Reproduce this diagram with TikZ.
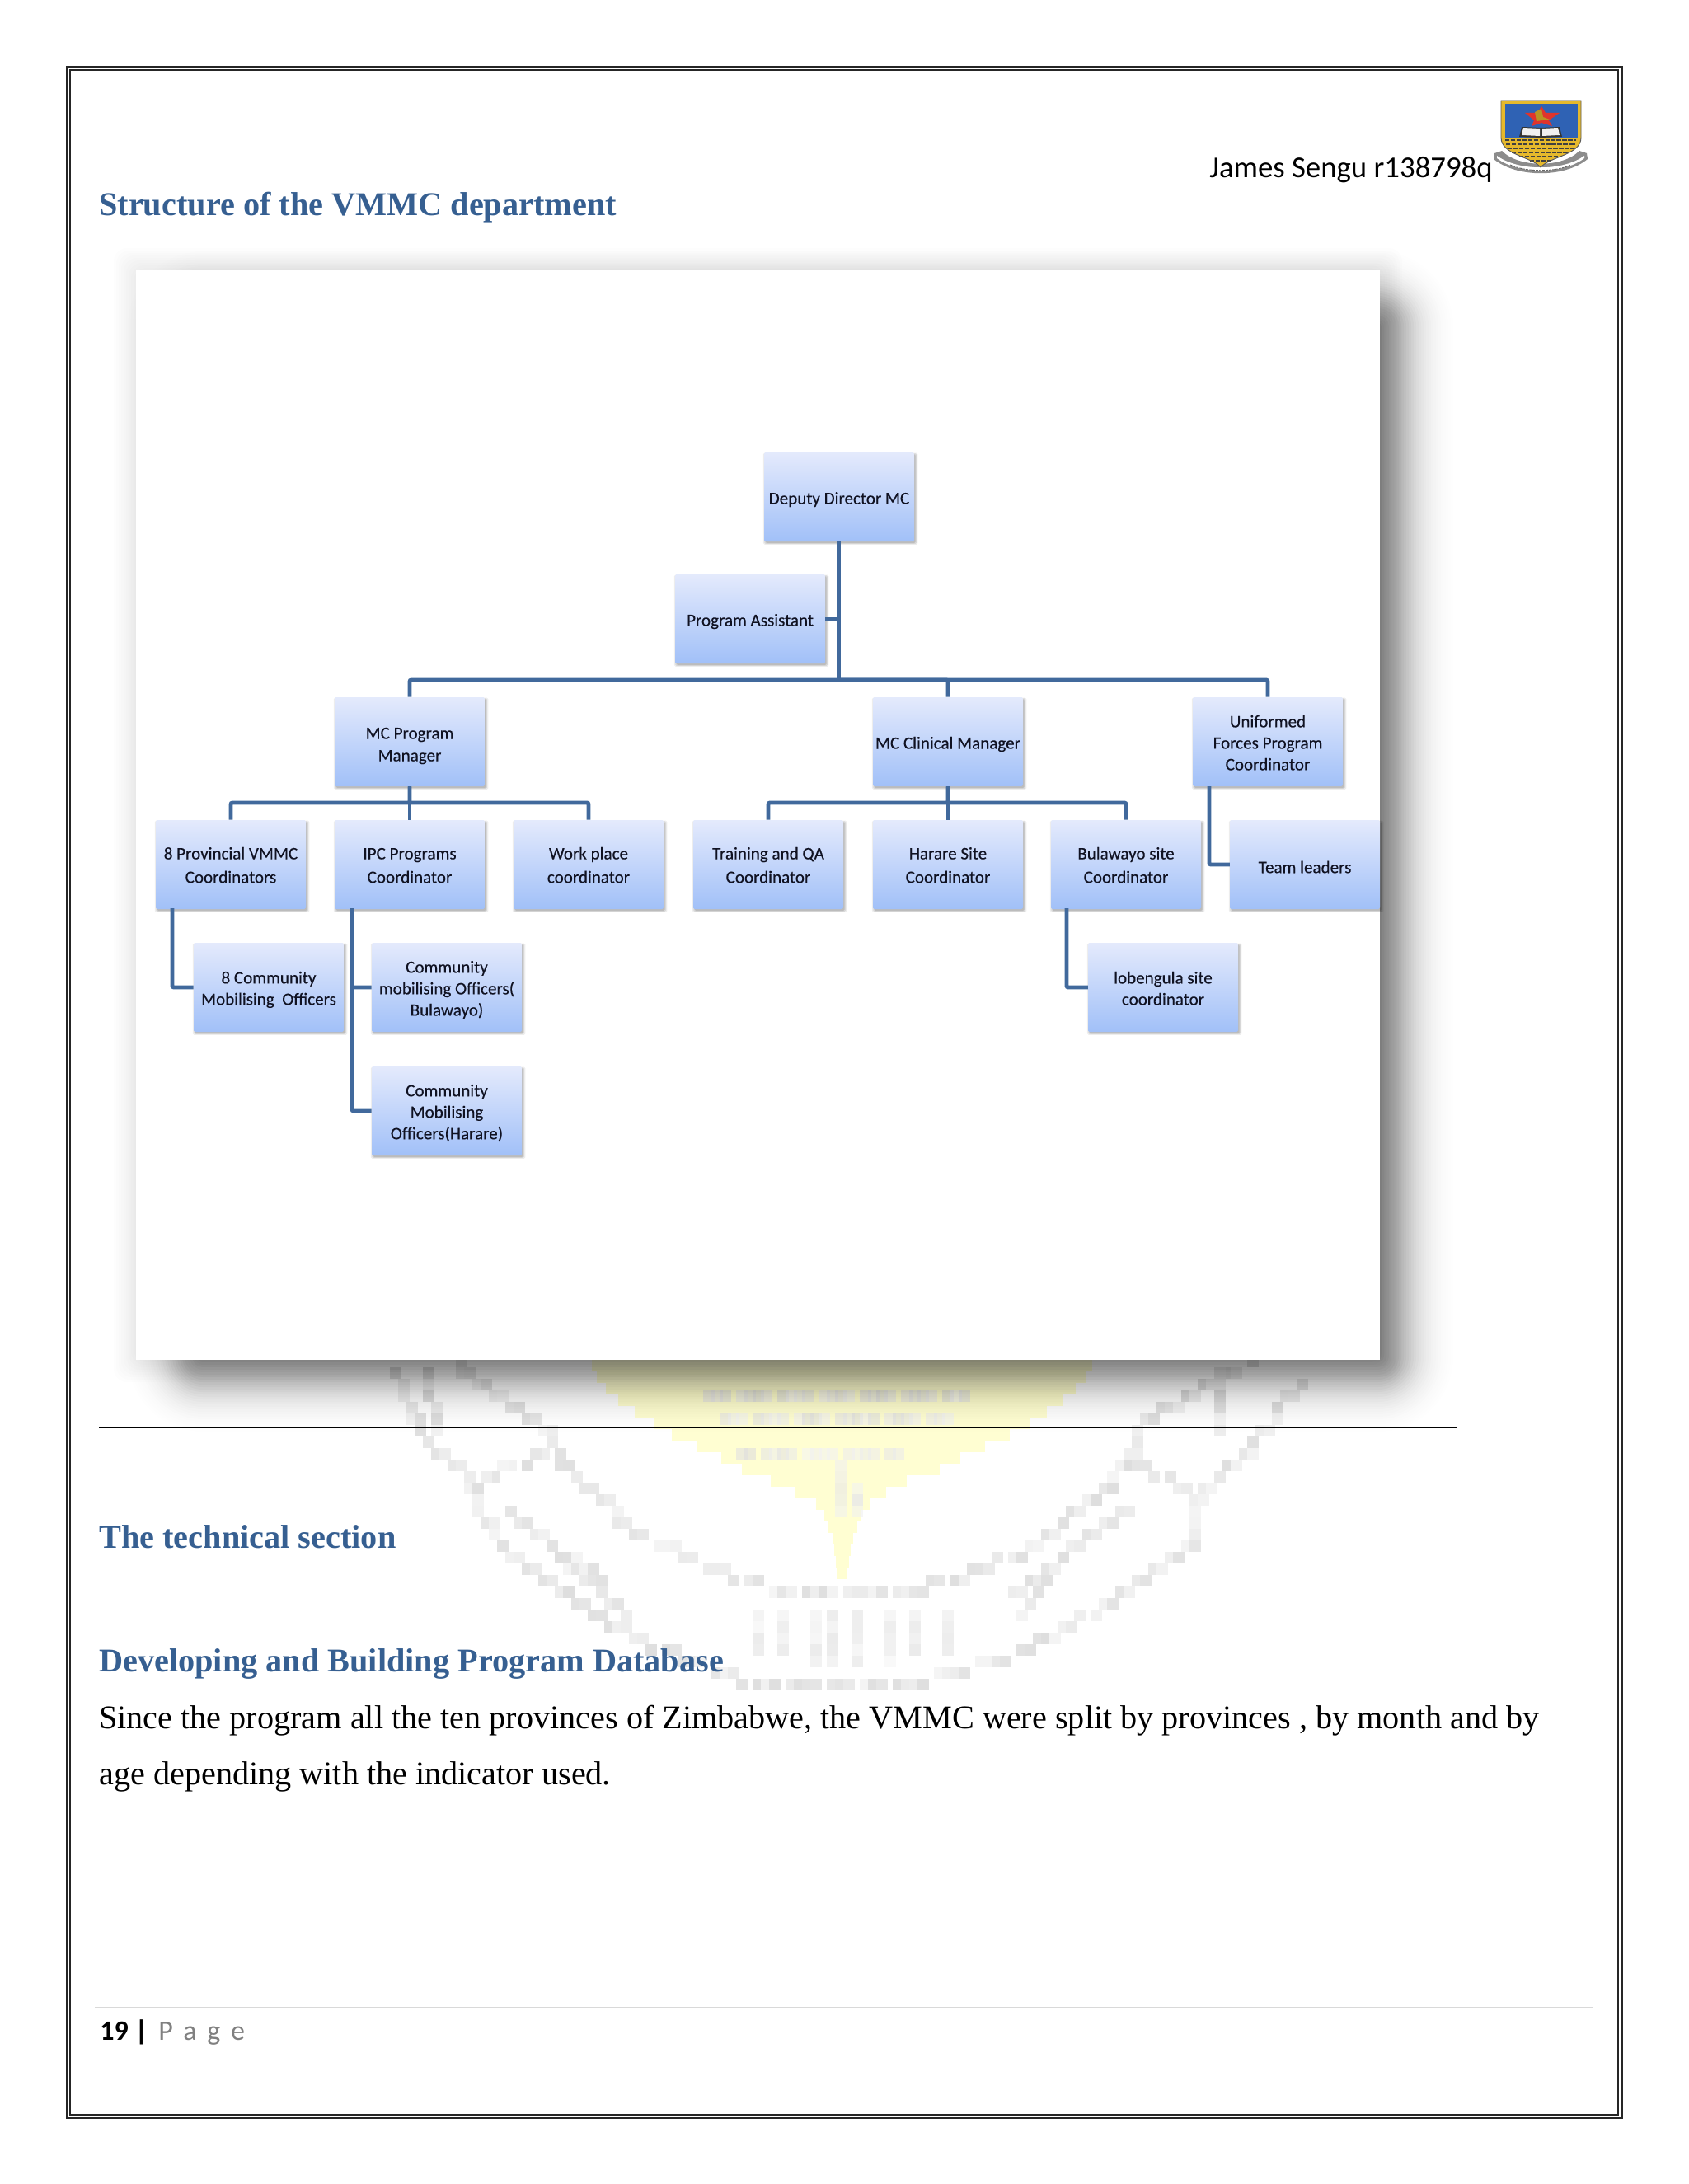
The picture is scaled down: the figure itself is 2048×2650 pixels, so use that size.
\documentclass[tikz,border=0pt]{standalone}
\usepackage{fontspec}
\setmainfont{Liberation Serif}
\newfontfamily\carlito{Carlito}
\newfontfamily\carlitob[FakeBold=0.3]{Carlito}
\usetikzlibrary{shadows,calc}
\definecolor{heading}{HTML}{365F91}
\definecolor{conn}{HTML}{41699C}
\definecolor{boxtop}{HTML}{E4EAFC}
\definecolor{boxbot}{HTML}{A1C0F8}
\definecolor{boxtext}{HTML}{101222}
\definecolor{wmyellow}{HTML}{FFFED2}
\definecolor{crestblue}{HTML}{2F62B4}
\definecolor{crestgold}{HTML}{E6B92C}
\definecolor{crestred}{HTML}{E0342C}
\tikzset{
  softshadow/.style={
    general shadow={fill=black,opacity=.07,shadow xshift=1.2pt,shadow yshift=-1.6pt,shadow scale=1.03},
    general shadow={fill=black,opacity=.09,shadow xshift=1.2pt,shadow yshift=-1.6pt,shadow scale=1.015},
    general shadow={fill=black,opacity=.12,shadow xshift=1.2pt,shadow yshift=-1.6pt}},
  orgbox/.style={rectangle,rounded corners=1.2pt,minimum width=136.5pt,minimum height=81pt,inner sep=0pt,
    top color=boxtop,bottom color=boxbot,text=boxtext,align=center,softshadow,
    font=\carlitob\fontsize{15.8}{19.5}\selectfont,
    execute at begin node={\rule{0pt}{15.5pt}}},
  midbox/.style={orgbox,font=\carlitob\fontsize{15.8}{20.3}\selectfont},
  widebox/.style={orgbox,font=\carlitob\fontsize{15.8}{21.5}\selectfont},
  link/.style={draw=conn,line width=3.7pt,rounded corners=1.5pt},
  headtext/.style={anchor=base west,inner sep=0pt,text=heading,font=\bfseries\fontsize{30.2}{34}\selectfont},
  bodytext/.style={anchor=base west,inner sep=0pt,font=\fontsize{30.15}{36}\selectfont},
  foot/.style={anchor=base west,inner sep=0pt,font=\carlito\fontsize{25.5}{30}\selectfont}
}
\newcommand{\wmband}[1]{%
  \foreach \a/\b/\c/\d in {#1}{%
    \pgfmathtruncatemacro\nn{max(1,veclen(\c-\a,\d-\b)/12)}%
    \foreach \i in {0,...,\nn}{%
      \pgfmathsetmacro\px{round((\a+(\c-\a)*\i/\nn)/10)*10}%
      \pgfmathsetmacro\py{round((\b+(\d-\b)*\i/\nn)/14)*14}%
      \pgfmathsetmacro\sh{4+rnd*9}%
      \fill[black!\sh] (\px-7,\py-7) rectangle ++(14,14);
    }%
  }%
}
\begin{document}
\begin{tikzpicture}[x=0.75pt,y=-0.75pt]
\useasboundingbox (0,0) rectangle (2048,2650);
\fill[white] (0,0) rectangle (2048,2650);
\pgfmathsetseed{7}
% watermark: yellow point of the shield
\foreach \yy/\xa/\xb in {1650/718/1325,1664/724/1318,1678/735/1305,1692/750/1290,1706/770/1270,1720/794/1250,1734/815/1225,1748/845/1195,1762/875/1165,1776/900/1140,1790/935/1100,1804/965/1075,1818/990/1055,1832/1000/1045,1846/1005/1040,1860/1010/1035,1874/1012/1032,1888/1014/1030,1902/1016/1028}
  \fill[wmyellow] (\xa,\yy) rectangle (\xb,\yy+14);
% watermark: bands
\wmband{480/1670/512/1740,512/1740/566/1793,566/1793/610/1877,610/1877/707/1950,707/1950/794/1997,794/1997/903/2037,903/2037/968/2050,968/2050/1087/2050,1087/2050/1174/2027,1174/2027/1250/2000,1250/2000/1336/1950,1336/1950/1445/1873,1445/1873/1456/1820,1456/1820/1532/1740,1532/1740/1575/1680}
\wmband{555/1653/664/1730,664/1730/675/1767,675/1767/772/1860,772/1860/881/1910,881/1910/935/1925,935/1925/989/1937,989/1937/1087/1937,1087/1937/1168/1912,1168/1912/1250/1880,1250/1880/1374/1777,1374/1777/1380/1733,1380/1733/1515/1653}
\wmband{659/1760/577/1803,1374/1767/1456/1820,620/1837/750/1947,1228/1937/1369/1827,700/1890/760/1960,1290/1890/1240/1960,520/1660/530/1730,1480/1660/1475/1730}
\begin{scope}[opacity=.6]
\wmband{924/1957/924/2003,950/1957/950/2003,985/1960/985/2015,1010/1965/1010/2015,1040/1965/1040/2015,1075/1960/1075/2015,1110/1957/1110/2000,1150/1957/1150/2000}
\wmband{860/1690/1170/1690,880/1722/1150/1722,900/1760/1090/1760,1020/1780/1020/1830,1040/1800/1040/1840}
\end{scope}
% soft shadow of the picture
\foreach \k/\op in {-30/.024,-27/.024,-24/.024,-21/.024,-18/.024,-15/.024,-12/.024,-9/.024,-6/.024,-3/.024,0/.024,3/.024,6/.024,9/.024,12/.022,15/.02,18/.018,21/.016,24/.014,27/.012,30/.011,33/.01,36/.009,39/.008,42/.007,45/.006,48/.005,51/.004,54/.004,57/.003,60/.003}{
  \pgfmathsetmacro\rad{(\k+31)*0.75}
  \fill[black,opacity=\op,rounded corners=\rad pt] (215-\k,365-\k) rectangle (1703+\k,1677+\k);
}
% faint halo round the picture
\foreach \k in {3,6,...,27}
  \fill[black,opacity=.007,rounded corners=12pt] (165-\k,328-\k) rectangle (1674+\k,1650+\k);
% picture
\fill[white] (165,328) rectangle (1674,1650);
% organisation chart
\node[orgbox]  (dep)   at (1018,603)  {Deputy Director MC};
\node[orgbox]  (pa)    at (910,751)   {Program Assistant};
\node[midbox]  (mcp)   at (497,900)   {\\[-2.5pt]MC Program\\Manager};
\node[orgbox]  (clin)  at (1150,900)  {MC Clinical Manager};
\node[orgbox]  (unif)  at (1538,900)  {\\[-6.7pt]Uniformed\\Forces Program\\Coordinator};
\node[widebox] (prov)  at (280,1049)  {\\[-9.5pt]8 Provincial VMMC\\Coordinators};
\node[widebox] (ipc)   at (497,1049)  {\\[-9.5pt]IPC Programs\\Coordinator};
\node[widebox] (work)  at (714,1049)  {\\[-9.5pt]Work place\\coordinator};
\node[widebox] (train) at (932,1049)  {\\[-9.5pt]Training and QA\\Coordinator};
\node[widebox] (hsite) at (1150,1049) {\\[-9.5pt]Harare Site\\Coordinator};
\node[widebox] (bulaw) at (1366,1049) {\\[-9.5pt]Bulawayo site\\Coordinator};
\node[orgbox]  (team)  at (1583,1049) {Team leaders};
\node[orgbox]  (comm)  at (326,1198)  {\\[-4.3pt]8 Community\\Mobilising\ \ Officers};
\node[orgbox]  (cbul)  at (542,1198)  {\\[-4.3pt]Community\\mobilising Officers(\\Bulawayo)};
\node[orgbox]  (char)  at (542,1348)  {\\[-4.9pt]Community\\Mobilising\\Officers(Harare)};
\node[orgbox]  (lob)   at (1411,1198) {\\[-6.7pt]lobengula site\\coordinator};
% connectors
\coordinate (busA) at (0,825);
\coordinate (busB) at (0,974);
\coordinate (provdrop) at (209,1102);
\coordinate (ipcdrop) at (427,1102);
\coordinate (buldrop) at (1294,1102);
\coordinate (unifdrop) at (1467,954);
\draw[link] (dep.south) -- (dep.south |- busA);
\draw[link] (pa.east) -- (pa.east -| dep.south);
\draw[link] (dep.south |- busA) -| (mcp.north);
\draw[link] (dep.south |- busA) -| (clin.north);
\draw[link] (dep.south |- busA) -| (unif.north);
\draw[link] (mcp.south) -- (mcp.south |- busB) -| (prov.north);
\draw[link] (mcp.south) -- (ipc.north);
\draw[link] (mcp.south |- busB) -| (work.north);
\draw[link] (clin.south) -- (clin.south |- busB) -| (train.north);
\draw[link] (clin.south) -- (hsite.north);
\draw[link] (clin.south |- busB) -| (bulaw.north);
\draw[link] (provdrop) |- (comm.west);
\draw[link] (ipcdrop) |- (cbul.west);
\draw[link] (ipcdrop) |- (char.west);
\draw[link] (buldrop) |- (lob.west);
\draw[link] (unifdrop) |- (team.west);
% page frame
\draw[black!85,line width=1.6pt] (81,81) rectangle (1968,2570);
\draw[black!85,line width=1.1pt] (85,85) rectangle (1963,2566);
% crest
\fill[black!45] (1813,186) -- (1822,183) .. controls (1842,204) and (1896,204) .. (1916,183) -- (1925,186) -- (1926,193) .. controls (1898,216) and (1840,216) .. (1812,193) -- cycle;
\fill[white] (1816,189) .. controls (1842,208) and (1896,208) .. (1922,189) -- (1922,192) .. controls (1896,212) and (1842,212) .. (1816,192) -- cycle;
\draw[black!60,line width=.7pt,dash pattern=on 2pt off 1pt] (1832,200) .. controls (1850,209) and (1888,209) .. (1906,200);
\fill[crestgold] (1821,122) -- (1918,122) -- (1918,167) .. controls (1918,188) and (1880,190) .. (1869,203) .. controls (1858,190) and (1821,188) .. (1821,167) -- cycle;
\fill[crestblue] (1826,126) rectangle (1914,167);
\draw[black!70,line width=.7pt] (1823,122.5) -- (1917,122.5);
\foreach \yy/\xa/\xb in {170/1826/1912,175/1827/1911,180/1829/1909,185/1834/1904,190/1843/1895,195/1856/1882}
  \draw[black!75,line width=1.6pt,dash pattern=on 4pt off 1.2pt] (\xa,\yy) -- (\xb,\yy);
\draw[black!65,line width=.7pt] (1821,122) -- (1918,122) -- (1918,167) .. controls (1918,188) and (1880,190) .. (1869,203) .. controls (1858,190) and (1821,188) .. (1821,167) -- cycle;
\fill[crestred] (1850,137) -- (1865,137) -- (1870,129) -- (1875,137) -- (1892,137) -- (1879,146) -- (1883,153) -- (1870,149) -- (1858,153) -- (1861,146) -- cycle;
\fill[crestgold!80!black] (1862,136) -- (1870,132) -- (1872,142) -- (1880,145) -- (1864,147) -- cycle;
\fill[black!80] (1843,166) -- (1846,154) -- (1869,155) -- (1892,154) -- (1895,166) -- (1869,167) -- cycle;
\fill[black!6] (1846,164) -- (1848,155) -- (1868,156) -- (1868,165) -- cycle;
\fill[black!6] (1892,164) -- (1890,155) -- (1871,156) -- (1871,165) -- cycle;
% texts
\node[anchor=base west,inner sep=0pt,font=\carlito\fontsize{27.6}{30}\selectfont] (author) at (1467,215.5) {James Sengu r138798q};
\node[headtext] (h1) at (120,261.5) {Structure of the VMMC department};
\draw[black,line width=1.5pt] (120,1732) coordinate (ruleL) -- (1767,1732) coordinate (ruleR);
\node[headtext] (h2) at (120,1878) {The technical section};
\node[headtext] (h3) at (120,2028) {Developing and Building Program Database};
\node[bodytext] (b1) at (120,2097) {Since the program all the ten provinces of Zimbabwe, the VMMC were split by provinces , by month and by};
\node[bodytext] (b2) at (120,2165) {age depending with the indicator used.};
% footer
\draw[black!15,line width=1.5pt] (115,2436) coordinate (footL) -- (1933,2436) coordinate (footR);
\node[foot] (pg) at (121,2475) {\bfseries 19 |};
\node[foot,text=black!50] (pgw) at (192,2475) {\spaceskip=9.5pt P a g e};
\end{tikzpicture}
\end{document}
